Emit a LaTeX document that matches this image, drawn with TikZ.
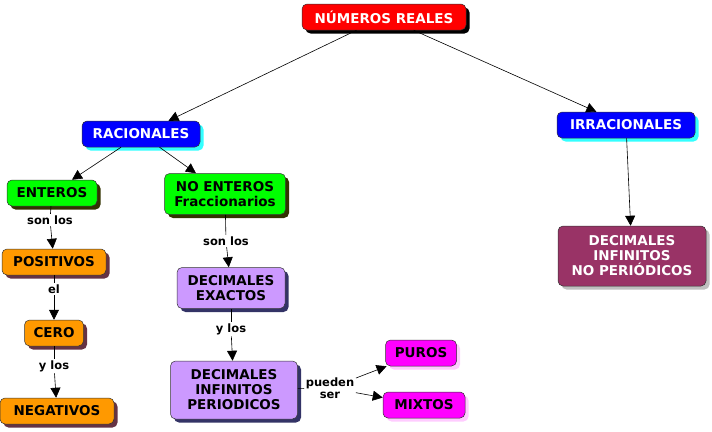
\documentclass[tikz,border=0pt]{standalone}
\usepackage{fontspec}
\setmainfont{DejaVu Sans}
\usetikzlibrary{shadows,arrows.meta}
\definecolor{olv}{HTML}{333300}
\definecolor{plum}{HTML}{663344}
\definecolor{dblu}{HTML}{333366}
\definecolor{wine}{HTML}{993366}
\definecolor{mag}{HTML}{FF00FF}
\definecolor{magl}{HTML}{FFCCFF}
\definecolor{org}{HTML}{FF9900}
\definecolor{lav}{HTML}{CC99FF}
\definecolor{grn}{HTML}{00FF00}
\definecolor{blu}{HTML}{0000FF}
\definecolor{cya}{HTML}{33FFFF}
\definecolor{rd}{HTML}{FF0000}
\tikzset{
 box/.style={draw=black!80, line width=0.5pt, rounded corners=5pt, minimum height=26pt, inner xsep=5pt, inner ysep=2pt, align=center, font=\fontsize{13.5}{15}\selectfont\bfseries},
 sh/.style={drop shadow={shadow xshift=3.5pt, shadow yshift=-3.5pt, fill=#1, opacity=1}},
 lab/.style={font=\fontsize{11.5}{12.5}\selectfont\bfseries, inner sep=1.5pt, align=center},
 arr/.style={-{Triangle[length=10pt,width=10pt]}, line width=0.6pt},
 ln/.style={line width=0.6pt}
}
\begin{document}
\begin{tikzpicture}[x=1pt,y=-1pt]
\useasboundingbox (0,0) rectangle (712,431);
\node[box, fill=rd, text=white, sh=black, minimum width=164pt] (nr) at (384,17) {NÚMEROS REALES};
\node[box, fill=blu, text=white, sh=cya, minimum width=118pt] (rac) at (141,134) {RACIONALES};
\node[box, fill=blu, text=white, sh=cya, minimum width=138pt] (irr) at (626,125) {IRRACIONALES};
\node[box, fill=grn, sh=olv, minimum width=90pt] (ent) at (52,193) {ENTEROS};
\node[box, fill=grn, sh=olv, minimum width=121pt, minimum height=41pt] (noent) at (225,194) {NO ENTEROS\\Fraccionarios};
\node[box, fill=org, sh=plum, minimum width=104pt] (pos) at (54,262) {POSITIVOS};
\node[box, fill=org, sh=plum, minimum width=59pt] (cero) at (54,333) {CERO};
\node[box, fill=org, sh=plum, minimum width=114pt] (neg) at (57,411) {NEGATIVOS};
\node[box, fill=lav, sh=dblu, minimum width=108pt, minimum height=41pt] (dex) at (231,288) {DECIMALES\\EXACTOS};
\node[box, fill=lav, sh=dblu, minimum width=127pt, minimum height=58pt] (dip) at (234,390) {DECIMALES\\INFINITOS\\PERIODICOS};
\node[box, fill=mag, sh=magl, minimum width=71pt] (puros) at (421,353) {PUROS};
\node[box, fill=mag, sh=magl, minimum width=82pt] (mixtos) at (424,405) {MIXTOS};
\node[box, fill=wine, text=white, sh=black!25, minimum width=148pt, minimum height=60pt] (dinp) at (632,256) {DECIMALES\\INFINITOS\\NO PERIÓDICOS};
\node[lab] (l1) at (50,220) {son los};
\node[lab] (l2) at (54,289) {el};
\node[lab] (l3) at (54,366) {y los};
\node[lab] (l4) at (226,241) {son los};
\node[lab] (l5) at (231,329) {y los};
\node[lab] (l6) at (330,388) {pueden\\ser};
\draw[arr] (nr) -- (rac);
\draw[arr] (nr) -- (irr);
\draw[arr] (rac) -- (ent);
\draw[arr] (rac) -- (noent);
\draw[arr] (irr) -- (dinp);
\draw[ln] (ent) -- (l1); \draw[arr] (l1) -- (pos);
\draw[ln] (pos) -- (l2); \draw[arr] (l2) -- (cero);
\draw[ln] (cero) -- (l3); \draw[arr] (l3) -- (neg);
\draw[ln] (noent) -- (l4); \draw[arr] (l4) -- (dex);
\draw[ln] (dex) -- (l5); \draw[arr] (l5) -- (dip);
\draw[ln] (dip) -- (l6);
\draw[arr] (l6) -- (puros);
\draw[arr] (l6) -- (mixtos);
\end{tikzpicture}
\end{document}
